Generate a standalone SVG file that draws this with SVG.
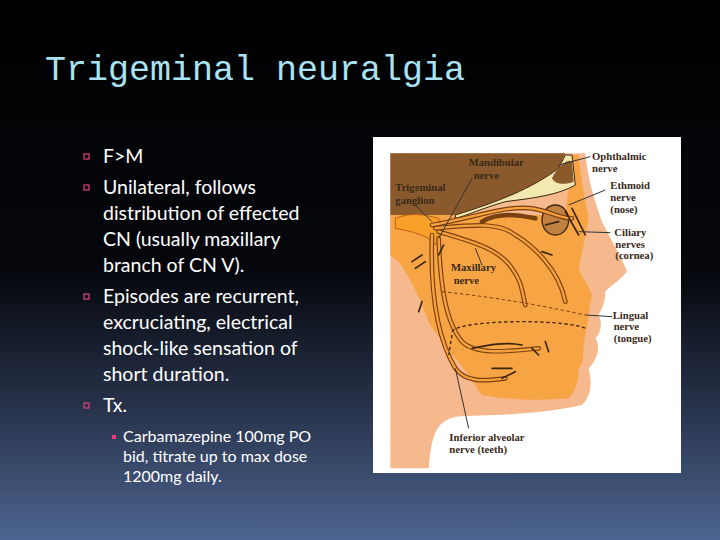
<svg xmlns="http://www.w3.org/2000/svg" width="720" height="540" viewBox="0 0 720 540">
<defs>
<linearGradient id="bg" x1="0" y1="0" x2="0" y2="1">
<stop offset="0" stop-color="#000"/><stop offset="0.5" stop-color="#05070c"/><stop offset="0.75" stop-color="#27324a"/><stop offset="1" stop-color="#4d6590"/>
</linearGradient>
<style>
.b{font-family:Lato,"Open Sans",sans-serif;font-size:19.5px;fill:#fff}
.s{font-family:Lato,"Open Sans",sans-serif;font-size:16px;fill:#fff}
.l{font-family:"Liberation Serif",serif;font-weight:bold;font-size:32px;fill:#3a2a1a}
.n{fill:none;stroke:#7a4010;stroke-width:14;stroke-linecap:round}
.ni{fill:none;stroke:#f7a23e;stroke-width:7;stroke-linecap:round}
.t{fill:none;stroke:#3a2510;stroke-width:5;stroke-linecap:round}
.ld{fill:none;stroke:#333;stroke-width:3}
</style>
</defs>
<rect width="720" height="540" fill="url(#bg)"/>
<text x="45" y="80" font-family="Liberation Mono, monospace" font-size="35" fill="#a9e2f2">Trigeminal neuralgia</text>
<g id="bullets">
<g fill="none" stroke="#d0407a" stroke-width="1.3">
<rect x="84" y="154" width="5" height="5"/><rect x="84" y="185" width="5" height="5"/><rect x="84" y="294" width="5" height="5"/><rect x="84" y="403" width="5" height="5"/>
</g>
<rect x="112" y="435" width="4" height="4" fill="#e0407a"/>
<text class="b" x="103" y="163">F&gt;M</text>
<text class="b" x="103" y="194">Unilateral, follows</text>
<text class="b" x="103" y="220">distribution of effected</text>
<text class="b" x="103" y="246">CN (usually maxillary</text>
<text class="b" x="103" y="272">branch of CN V).</text>
<text class="b" x="103" y="303">Episodes are recurrent,</text>
<text class="b" x="103" y="329">excruciating, electrical</text>
<text class="b" x="103" y="355">shock-like sensation of</text>
<text class="b" x="103" y="381">short duration.</text>
<text class="b" x="103" y="412">Tx.</text>
<text class="s" x="123" y="442">Carbamazepine 100mg PO</text>
<text class="s" x="123" y="462">bid, titrate up to max dose</text>
<text class="s" x="123" y="482">1200mg daily.</text>
</g>
<g id="figure">
<rect x="373" y="137" width="308" height="336" fill="#fff"/>
<g transform="translate(372,135) scale(0.33333)">
<path d="M55 55 H640 C650 150 670 200 690 260 C720 320 750 370 765 410 C740 440 710 455 700 470 C700 500 690 520 680 540 C690 560 690 590 670 610 C690 640 670 680 650 700 C660 740 660 780 630 810 C500 840 350 840 250 845 C200 860 180 880 170 1000 H55 Z" fill="#f6b98d"/>
<path d="M55 240 H580 L600 60 H620 C630 150 640 200 650 250 C640 300 630 360 620 400 C630 430 650 450 660 480 C650 520 650 560 640 600 C630 640 640 680 620 700 C620 740 610 770 590 790 C480 800 380 790 330 780 C300 740 280 700 240 660 C220 620 190 600 170 560 C150 500 110 420 80 380 L55 360 Z" fill="#f7a444"/>
<path d="M55 55 H580 L560 100 C480 160 380 200 250 240 H55 Z" fill="#8a5a2c"/>
<path d="M580 60 L600 60 L610 150 C560 180 480 190 400 200 C330 220 290 240 250 250 L250 240 C380 200 480 160 560 100 Z" fill="#f3e8b0" stroke="#3a2510" stroke-width="3"/>
<path d="M540 130 C560 90 590 70 600 80 L605 140 C580 150 550 150 540 130 Z" fill="#8a5a2c"/>
<ellipse cx="550" cy="255" rx="40" ry="45" fill="#c08040" stroke="#3a2510" stroke-width="4"/>
<path d="M70 250 C120 230 160 240 200 250 C220 280 200 310 190 330 C170 300 120 290 70 280 Z" fill="#f7a02a" stroke="#c06010" stroke-width="3"/>
<g class="n">
<path d="M180 270 C300 250 400 210 480 220 C540 230 560 250 600 250"/>
<path d="M190 280 C300 270 380 260 430 300 C480 330 560 400 580 500"/>
<path d="M200 290 C300 320 380 340 420 400 C450 440 450 470 460 510"/>
<path d="M180 300 C175 450 190 600 250 700 C280 740 330 740 400 730"/>
<path d="M200 310 C205 450 220 560 270 620 C310 660 400 650 500 640"/>
<path d="M330 260 C380 230 440 240 490 250"/>
</g>
<g class="ni">
<path d="M180 270 C300 250 400 210 480 220 C540 230 560 250 600 250"/>
<path d="M190 280 C300 270 380 260 430 300 C480 330 560 400 580 500"/>
<path d="M200 290 C300 320 380 340 420 400 C450 440 450 470 460 510"/>
<path d="M180 300 C175 450 190 600 250 700 C280 740 330 740 400 730"/>
<path d="M200 310 C205 450 220 560 270 620 C310 660 400 650 500 640"/>
</g>
<g class="t">
<path d="M300 640 C350 630 400 620 450 630 M520 620 L530 650 M480 640 L500 660 M360 700 L420 700 M390 730 L430 710"/>
<path d="M600 220 L640 300 M580 230 L620 300 M520 270 L560 260 M510 350 L540 360"/>
<path d="M150 360 L120 380 M160 380 L130 400 M150 500 L140 530 M200 360 L215 330"/>
</g>
<path d="M210 470 C400 490 550 520 640 540" fill="none" stroke="#7a4010" stroke-width="3" stroke-dasharray="10 8"/>
<path d="M240 590 C250 570 350 560 450 560 C550 560 620 570 640 580" fill="none" stroke="#3a2510" stroke-width="4" stroke-dasharray="10 8"/>
<path d="M240 600 L230 660" fill="none" stroke="#3a2510" stroke-width="4" stroke-dasharray="10 8"/>
<g class="ld">
<path d="M200 310 L300 130"/><path d="M130 210 L180 260"/><path d="M560 90 L655 65"/>
<path d="M590 210 L700 165"/><path d="M620 290 L715 293"/><path d="M310 340 L330 390"/>
<path d="M640 540 L720 545"/><path d="M250 700 L290 880"/>
</g>
<text class="l" x="290" y="92">Mandibular</text>
<text class="l" x="305" y="132">nerve</text>
<text class="l" x="70" y="168">Trigeminal</text>
<text class="l" x="70" y="208">ganglion</text>
<text class="l" x="660" y="75">Ophthalmic</text>
<text class="l" x="660" y="110">nerve</text>
<text class="l" x="715" y="163">Ethmoid</text>
<text class="l" x="715" y="198">nerve</text>
<text class="l" x="715" y="233">(nose)</text>
<text class="l" x="727" y="303">Ciliary</text>
<text class="l" x="730" y="338">nerves</text>
<text class="l" x="730" y="373">(cornea)</text>
<text class="l" x="237" y="408">Maxillary</text>
<text class="l" x="245" y="447">nerve</text>
<text class="l" x="722" y="551">Lingual</text>
<text class="l" x="725" y="586">nerve</text>
<text class="l" x="725" y="621">(tongue)</text>
<text class="l" x="232" y="918">Inferior alveolar</text>
<text class="l" x="232" y="955">nerve (teeth)</text>
</g>
</g>
</svg>
